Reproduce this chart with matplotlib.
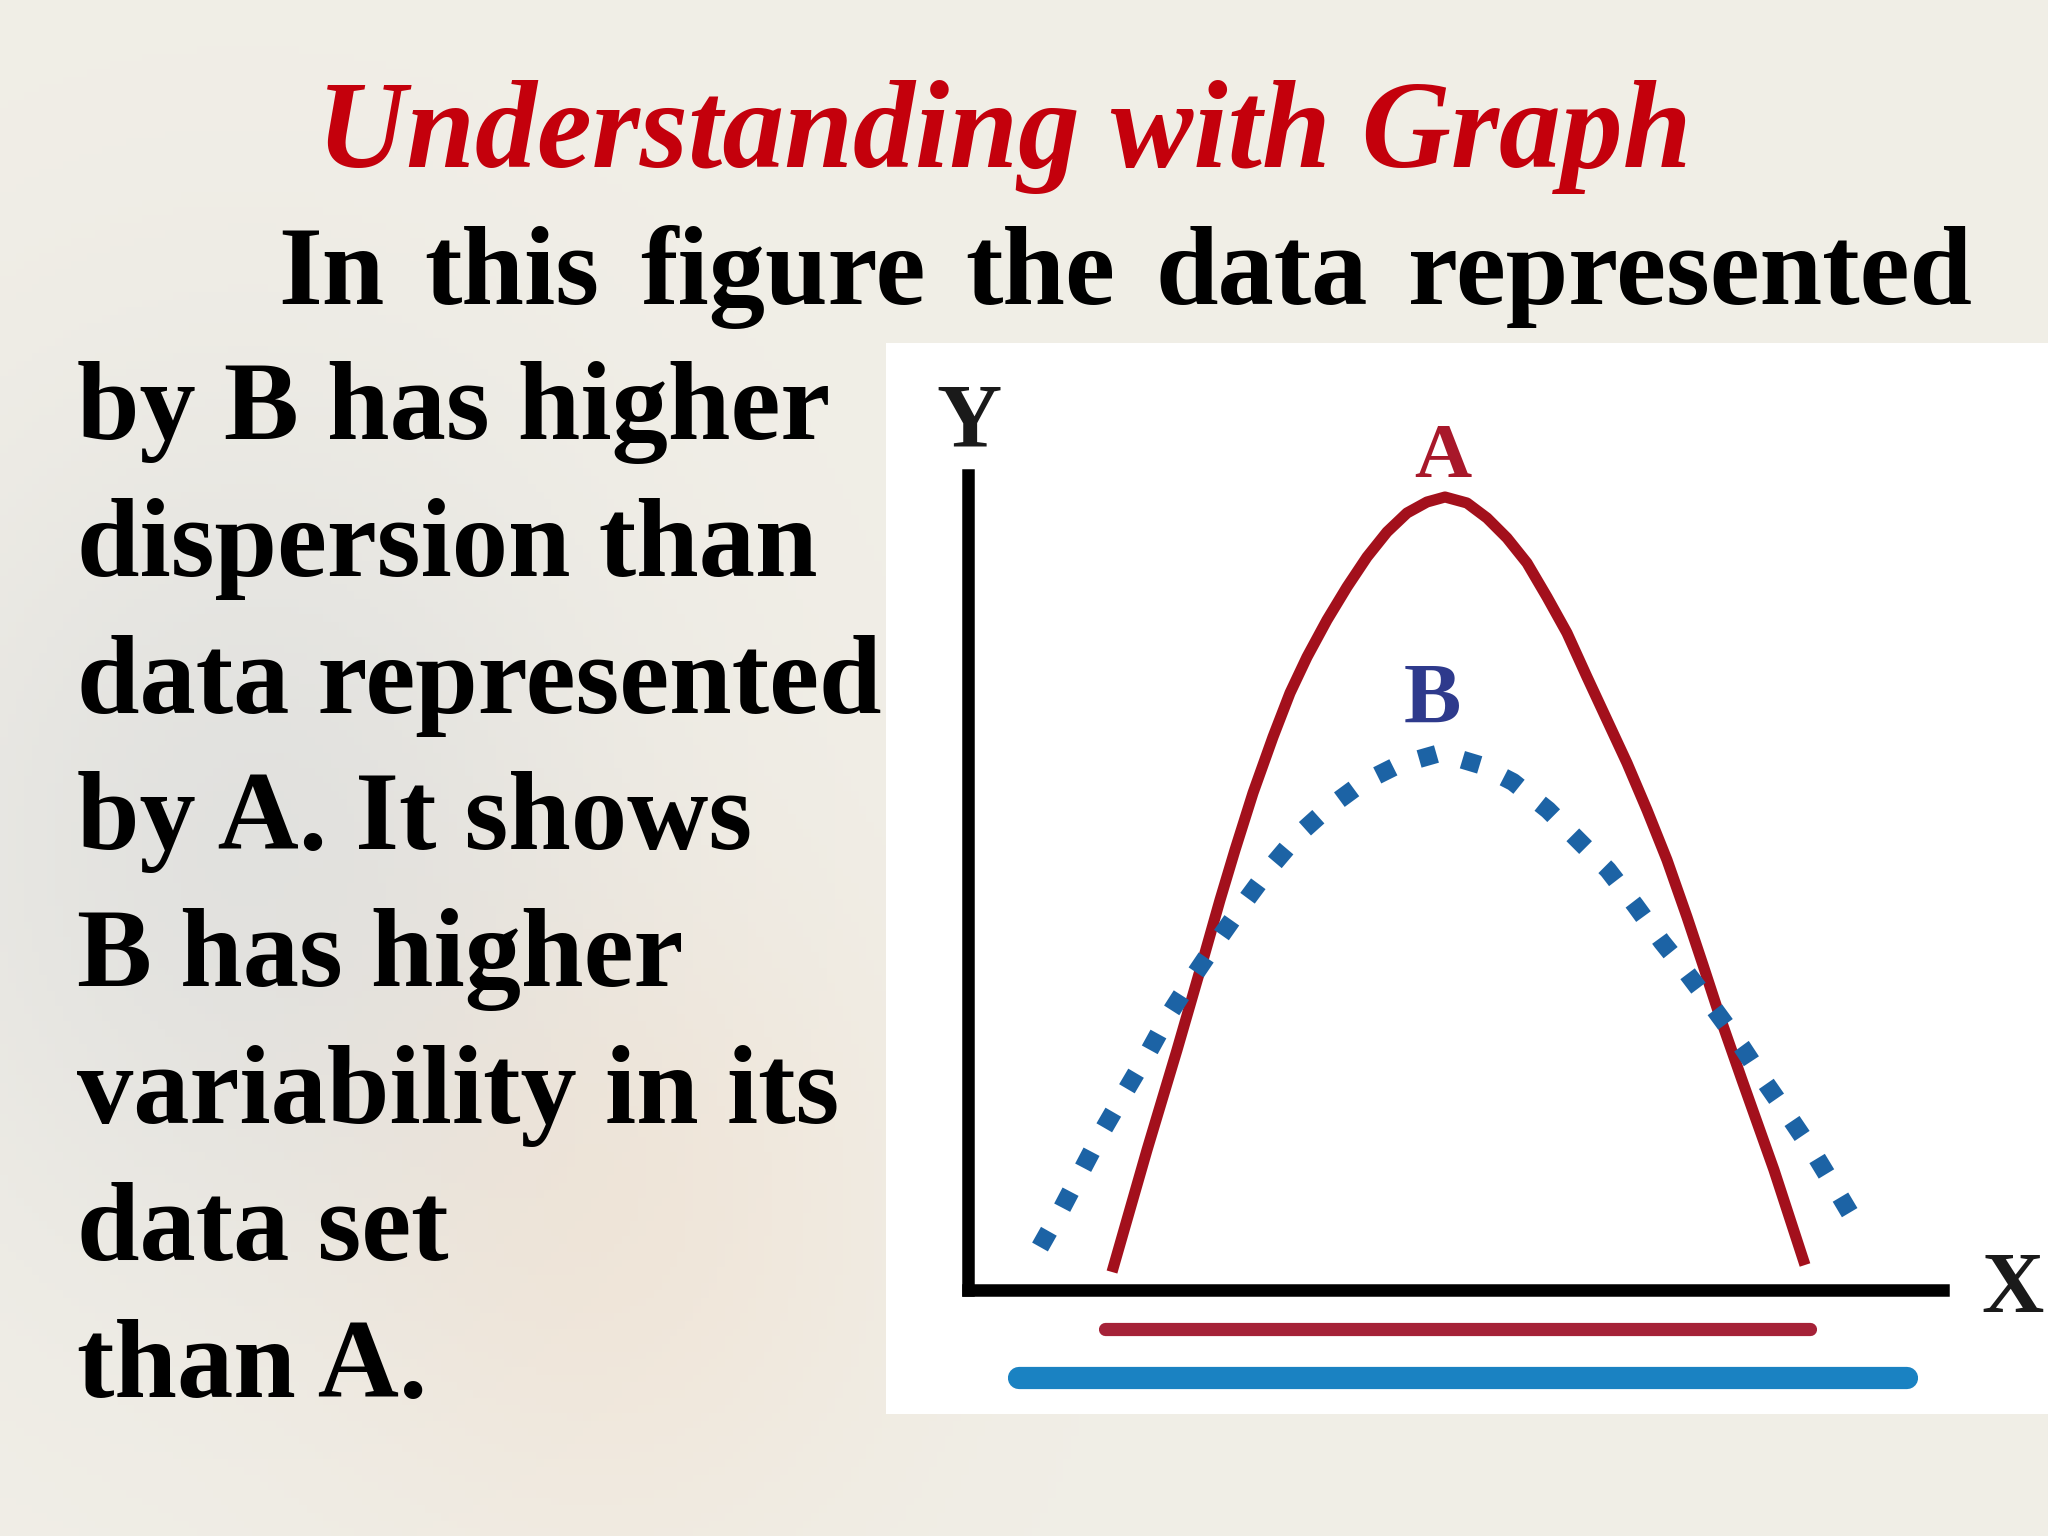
import numpy as np
import matplotlib.pyplot as plt

plt.rcParams['font.family'] = ['Liberation Serif', 'DejaVu Serif']

# texts
title = 'Understanding with Graph'
first_line = ['In', 'this', 'figure', 'the', 'data', 'represented']
body_lines = ['by B has higher', 'dispersion than', 'data represented',
              'by A. It shows', 'B has higher', 'variability in its',
              'data set', 'than A.']

# curve A (solid red)
a_x = [14.4, 17.9, 20.9, 23.3, 25.2, 26.7, 28.5, 30.5, 32.2, 33.9, 35.9, 37.9,
       39.9, 41.9, 43.9, 45.9, 47.7, 49.9, 51.9, 53.9, 55.9, 57.9, 59.9, 61.9,
       63.9, 65.9, 67.9, 69.9, 71.9, 73.5, 75.3, 77.4, 80.6, 83.7]
a_y = [1.8, 14.0, 24.0, 32.3, 39.0, 44.0, 49.7, 55.3, 59.7, 63.3, 67.0, 70.3,
       73.3, 75.8, 77.7, 78.8, 79.3, 78.7, 77.2, 75.2, 72.7, 69.3, 65.7, 61.3,
       57.0, 52.7, 48.0, 43.0, 37.3, 32.5, 27.0, 21.0, 12.0, 2.5]

# curve B (dotted blue)
b_x = [7.2, 9.4, 11.5, 13.5, 15.7, 18.0, 20.2, 22.5, 25.0, 27.6, 30.2, 33.0,
       36.0, 39.4, 43.0, 47.2, 51.2, 54.5, 58.0, 61.0, 64.0, 66.7, 69.4, 71.9,
       74.7, 77.4, 79.7, 82.2, 84.7, 87.0, 89.2]
b_y = [4.3, 8.2, 12.2, 16.0, 19.8, 23.7, 27.7, 31.3, 35.0, 38.7, 42.2, 45.5,
       48.2, 50.7, 52.5, 53.7, 52.5, 50.8, 48.0, 45.0, 42.0, 38.5, 34.8, 31.7,
       28.0, 24.3, 20.8, 17.2, 13.5, 9.7, 6.0]

# spread bars under the x axis
range_a = [13.7, 84.2]
range_b = [5.1, 93.9]

W, H = 2048, 1536
fig = plt.figure(figsize=(W / 100, H / 100), dpi=100)

# faded slide background
bg = fig.add_axes([0, 0, 1, 1])
yy, xx = np.mgrid[0:1:200j, 0:1:260j]
base = np.array([0.945, 0.935, 0.905])
img = np.ones((200, 260, 3)) * base
grey = np.exp(-((xx - 0.12) ** 2 / 0.03 + (yy - 0.55) ** 2 / 0.08))
warm = np.exp(-((xx - 0.3) ** 2 / 0.02 + (yy - 0.8) ** 2 / 0.05))
img -= grey[..., None] * np.array([0.06, 0.05, 0.03])
img -= warm[..., None] * np.array([0.0, 0.03, 0.05])
bg.imshow(np.clip(img, 0, 1), extent=[0, 1, 0, 1], aspect='auto', origin='upper')
bg.axis('off')

# title
fig.text(1004 / W, 1 - 167 / H, title, ha='center', va='baseline',
         fontsize=89, fontweight='bold', fontstyle='italic', color='#c4000c')

# first line, justified across the slide
fig.canvas.draw()
r = fig.canvas.get_renderer()
words = [fig.text(0, 1 - 304 / H, w, fontsize=81, fontweight='bold', va='baseline')
         for w in first_line]
widths = [t.get_window_extent(r).width for t in words]
x0, x1 = 278, 1972
gap = (x1 - x0 - sum(widths)) / (len(words) - 1)
x = x0
for t, w in zip(words, widths):
    t.set_x(x / W)
    x += w + gap

# left column
for i, line in enumerate(body_lines):
    fig.text(77 / W, 1 - (439 + i * 136.8) / H, line, fontsize=81,
             fontweight='bold', va='baseline', color='black')

# chart panel
ax = fig.add_axes([886 / W, (H - 1414) / H, (W - 886) / W, (1414 - 343) / H])
ax.set_facecolor('white')
ax.set_xlim(-8.2, 108)
ax.set_ylim(-12.4, 94.7)
ax.set_xticks([])
ax.set_yticks([])
for s in ['top', 'right']:
    ax.spines[s].set_visible(False)
for s in ['left', 'bottom']:
    ax.spines[s].set_position(('data', 0))
    ax.spines[s].set_linewidth(9)
    ax.spines[s].set_color('black')
ax.spines['left'].set_bounds(0, 81.5)
ax.spines['bottom'].set_bounds(0, 97.5)

ax.plot(a_x, a_y, color='#a3101c', lw=8, solid_capstyle='butt', solid_joinstyle='round')
ax.plot(b_x, b_y, color='#1c63a5', lw=13, linestyle=(0, (1, 1.5)),
        dash_capstyle='butt')

ax.plot(range_a, [-3.9, -3.9], color='#a52238', lw=9.5, solid_capstyle='round')
ax.plot(range_b, [-8.8, -8.8], color='#1a82c2', lw=16, solid_capstyle='round')

ax.text(0.1, 84.4, 'Y', ha='center', va='baseline', fontsize=65,
        fontweight='bold', color='#1a1a1a')
ax.text(101.3, -2.2, 'X', ha='left', va='baseline', fontsize=62,
        fontweight='bold', color='#1a1a1a', clip_on=False)
ax.text(47.5, 81.3, 'A', ha='center', va='baseline', fontsize=57,
        fontweight='bold', color='#a8182a')
ax.text(46.4, 56.7, 'B', ha='center', va='baseline', fontsize=62,
        fontweight='bold', color='#2e3a8c')

fig.savefig('out.png', dpi=100)
